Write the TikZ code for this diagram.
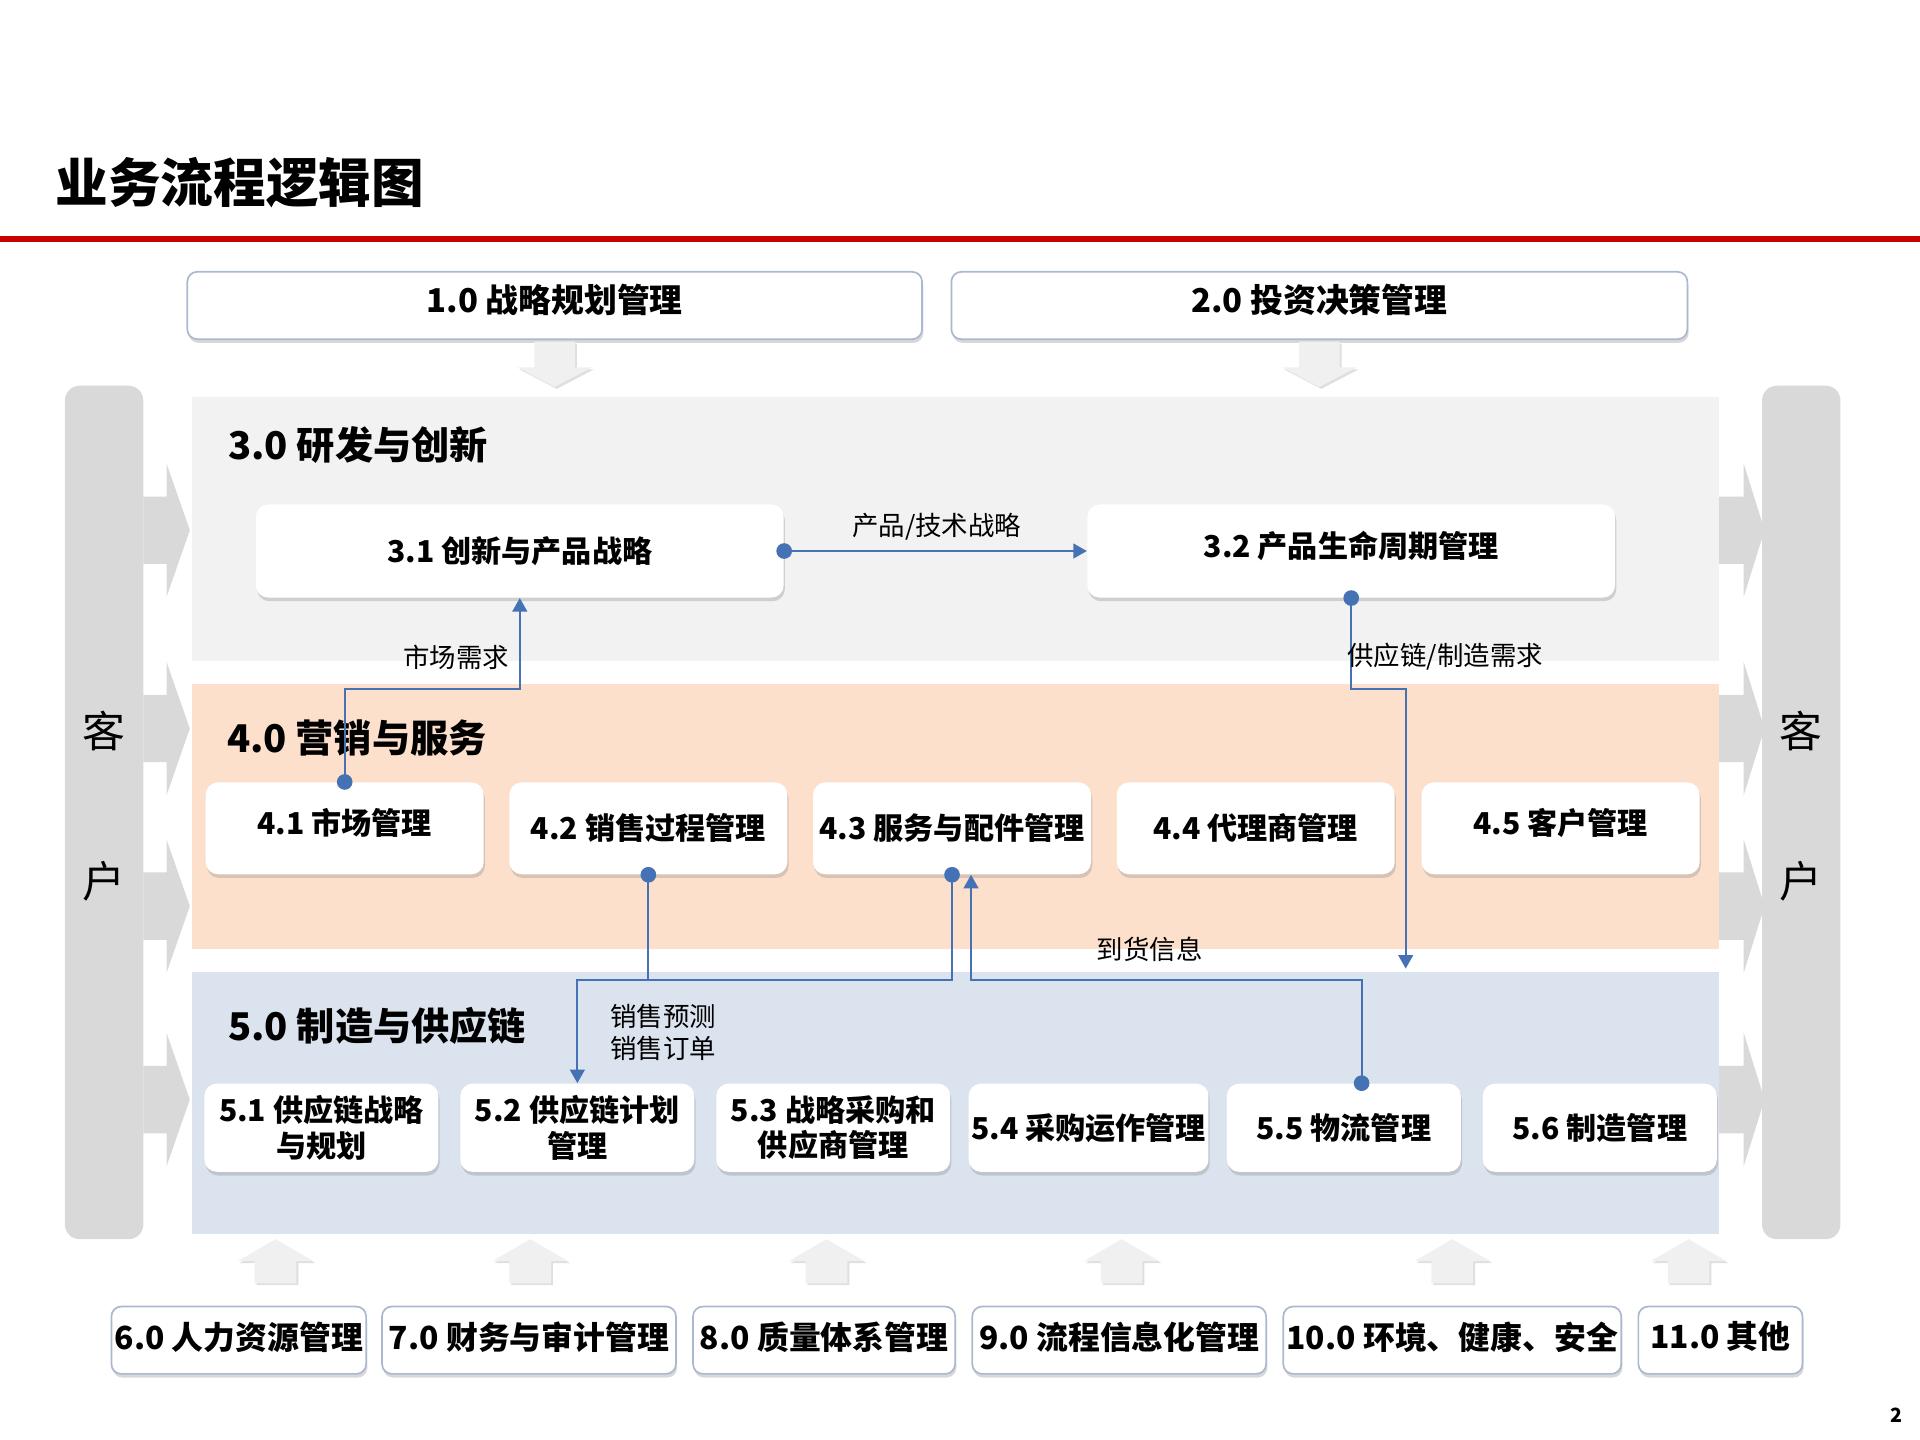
\documentclass[tikz,border=0pt]{standalone}
\usepackage{fontspec}
\setmainfont{Noto Sans CJK SC}
\usetikzlibrary{arrows.meta,shadows,calc}
\definecolor{redline}{RGB}{200,0,0}
\definecolor{pgray}{RGB}{242,242,242}
\definecolor{ppeach}{RGB}{252,224,204}
\definecolor{pblue}{RGB}{219,228,238}
\definecolor{sidegray}{RGB}{217,217,217}
\definecolor{blkgray}{RGB}{240,240,240}
\definecolor{conncol}{RGB}{68,114,180}
\definecolor{bordc}{RGB}{170,185,208}
\begin{document}
\begin{tikzpicture}[x=0.5pt,y=-0.5pt,
  ibox/.style={fill=white, rounded corners=5pt, drop shadow={shadow xshift=0.5pt,shadow yshift=-1.5pt,opacity=0.3}, inner sep=1pt, align=center, font=\bfseries\fontsize{12.3pt}{14.5pt}\selectfont},
  obox/.style={draw=bordc, line width=0.7pt, fill=white, rounded corners=4pt, drop shadow={shadow xshift=0.5pt,shadow yshift=-1.5pt,opacity=0.3}, inner sep=1pt, font=\bfseries\fontsize{13.4pt}{16pt}\selectfont},
  up/.style={text depth=5.5pt},
  panel/.style={fill=#1, draw=none, inner sep=0pt, minimum width=623.5pt, minimum height=108pt},
  ptitle/.style={anchor=west, inner sep=0pt, font=\bfseries\fontsize{15.6pt}{18pt}\selectfont},
  side/.style={fill=sidegray, rounded corners=6pt, inner sep=0pt, minimum width=32pt, minimum height=348.5pt},
  sidetxt/.style={font=\fontsize{17.5pt}{20pt}\selectfont, inner sep=0pt},
  blk/.style={fill=blkgray, drop shadow={shadow xshift=0.8pt,shadow yshift=-0.8pt,opacity=0.25}},
  sarrow/.style={fill=sidegray},
  conn/.style={draw=conncol, line width=0.8pt},
  conntip/.style={-{Triangle[length=5.5pt,width=6pt]}},
  clabel/.style={font=\fontsize{10.8pt}{13pt}\selectfont, inner sep=0pt},
  row4/.style={ibox, minimum width=113.5pt, minimum height=37.5pt},
  row5/.style={ibox, minimum width=95.5pt, minimum height=36pt},
  bot/.style={obox, minimum height=27.5pt, font=\bfseries\fontsize{13pt}{16pt}\selectfont, text depth=4pt}
]
\useasboundingbox (0,0) rectangle (1568,1176);
\fill[white] (0,0) rectangle (1568,1176);

% title and red rule
\node[anchor=west, inner sep=0pt, font=\bfseries\fontsize{21.5pt}{24pt}\selectfont] (title) at (45,149) {业务流程逻辑图};
\fill[redline] (0,193) rectangle (1568,198);

% side arrows
\foreach \t in {433,595,740,898}{
  \path[sarrow] (117,\t-27.5) -- (136,\t-27.5) -- (136,\t-54.5) -- (155,\t) -- (136,\t+54.5) -- (136,\t+27.5) -- (117,\t+27.5) -- cycle;
  \path[sarrow] (1402,\t-27.5) -- (1424,\t-27.5) -- (1424,\t-54.5) -- (1441,\t) -- (1424,\t+54.5) -- (1424,\t+27.5) -- (1402,\t+27.5) -- cycle;
}

% side bars
\node[side] (sideL) at (85,663.5) {};
\node[side] (sideR) at (1471,663.5) {};
\node[sidetxt] (kL1) at (85,597) {客};
\node[sidetxt] (kL2) at (85,720) {户};
\node[sidetxt] (kR1) at (1471,597) {客};
\node[sidetxt] (kR2) at (1471,720) {户};

% panels
\node[panel=pgray] (p3) at (780.5,432) {};
\node[panel=ppeach] (p4) at (780.5,667) {};
\node[panel=pblue, minimum height=107pt] (p5) at (780.5,901) {};
\node[ptitle] (t3) at (186,363) {3.0 研发与创新};
\node[ptitle] (t4) at (185,603) {4.0 营销与服务};
\node[ptitle] (t5l) at (186,838) {5.0 制造与供应链};

% top boxes
\node[obox, up, minimum width=300pt, minimum height=27.5pt] (b10) at (453,249.5) {1.0 战略规划管理};
\node[obox, up, minimum width=300.5pt, minimum height=27.5pt] (b20) at (1077.5,249.5) {2.0 投资决策管理};
\foreach \c in {453,1077.5}{
  \path[blk] (\c-16.5,279) -- (\c+16.5,279) -- (\c+16.5,300) -- (\c+30.5,300) -- (\c,316) -- (\c-30.5,300) -- (\c-16.5,300) -- cycle;
}

% 3.x
\node[ibox, minimum width=215.5pt, minimum height=38pt] (b31) at (424.5,450) {3.1 创新与产品战略};
\node[ibox, up, minimum width=215.5pt, minimum height=38pt] (b32) at (1103.5,450) {3.2 产品生命周期管理};

% 4.x
\node[row4, up] (b41) at (281.5,676.5) {4.1 市场管理};
\node[row4] (b42) at (529.5,676.5) {4.2 销售过程管理};
\node[row4] (b43) at (777.5,676.5) {4.3 服务与配件管理};
\node[row4] (b44) at (1025.5,676.5) {4.4 代理商管理};
\node[row4, up] (b45) at (1274.5,676.5) {4.5 客户管理};

% 5.x
\node[row5] (b51) at (262.5,921) {5.1 供应链战略\\与规划};
\node[row5] (b52) at (471.5,921) {5.2 供应链计划\\管理};
\node[row5] (b53) at (680.5,921) {5.3 战略采购和\\供应商管理};
\node[row5] (b54) at (889,921) {5.4 采购运作管理};
\node[row5] (b55) at (1097.5,921) {5.5 物流管理};
\node[row5] (b56) at (1306.5,921) {5.6 制造管理};

% connectors
\coordinate (yA) at (0,563);
\coordinate (yB) at (0,800);
\coordinate (e3) at (1148,791);
\coordinate (s5) at ([xshift=7.25pt]b55.north);
\coordinate (t5) at ([xshift=7.75pt]b43.south);
\draw[conn,conntip] (b31.east) -- (b32.west);
\draw[conn,conntip] (b41.north) |- (b31.south |- yA) -- (b31.south);
\draw[conn,conntip] (b32.south) |- (e3 |- yA) -- (e3);
\draw[conn,conntip] (b43.south) |- (b52.north |- yB) -- (b52.north);
\draw[conn] (b42.south) -- (b42.south |- yB);
\draw[conn,conntip] (s5) |- (t5 |- yB) -- (t5);
\foreach \p in {b31.east,b41.north,b32.south,b42.south,b43.south,s5}
  \fill[conncol] (\p) circle (3.2pt);

\node[clabel] (l1) at (765,430) {产品/技术战略};
\node[clabel, anchor=east] (l2) at (416,537) {市场需求};
\node[clabel, anchor=west] (l3) at (1100,536) {供应链/制造需求};
\node[clabel, anchor=west, align=left] (l4) at (498,843) {销售预测\\销售订单};
\node[clabel] (l5) at (939,775) {到货信息};

% bottom arrows and boxes
\foreach \c in {225,433,675,916,1186,1379}{
  \path[blk] (\c,1012) -- (\c+31,1030) -- (\c+17,1030) -- (\c+17,1048) -- (\c-17,1048) -- (\c-17,1030) -- (\c-31,1030) -- cycle;
}
\node[bot, minimum width=104pt] (b60) at (195,1094.5) {6.0 人力资源管理};
\node[bot, minimum width=120pt] (b70) at (432,1094.5) {7.0 财务与审计管理};
\node[bot, minimum width=107pt] (b80) at (673,1094.5) {8.0 质量体系管理};
\node[bot, minimum width=120pt] (b90) at (914,1094.5) {9.0 流程信息化管理};
\node[bot, minimum width=138pt] (b100) at (1186,1094.5) {10.0 环境、健康、安全};
\node[bot, minimum width=67pt] (b110) at (1405,1094.5) {11.0 其他};

\node[inner sep=0pt, font=\bfseries\fontsize{8pt}{9pt}\selectfont] (pg) at (1549,1156) {2};
\end{tikzpicture}
\end{document}
